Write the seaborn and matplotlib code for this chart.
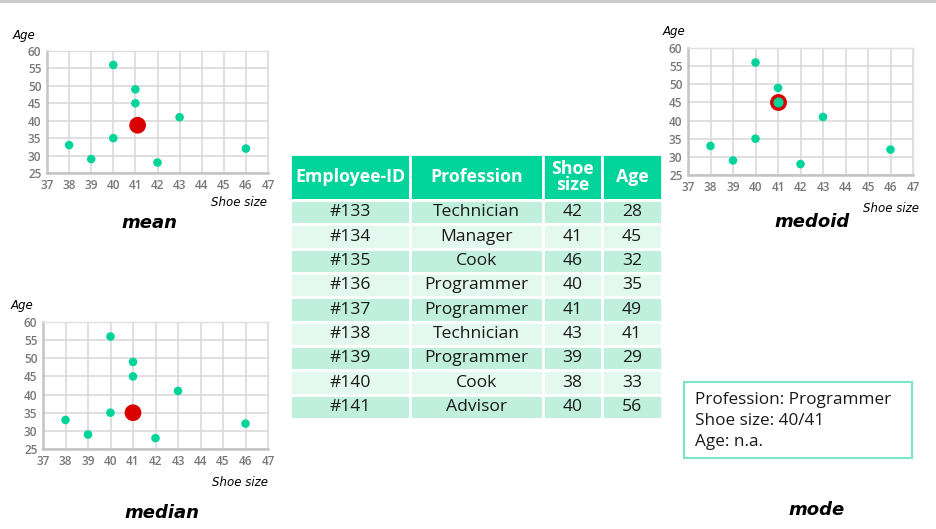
import matplotlib
matplotlib.use("Agg")
import matplotlib.pyplot as plt
import seaborn as sns
import pandas as pd

# Employee table data
employee_ids = ["#133", "#134", "#135", "#136", "#137", "#138", "#139", "#140", "#141"]
professions = ["Technician", "Manager", "Cook", "Programmer", "Programmer",
               "Technician", "Programmer", "Cook", "Advisor"]
shoe_sizes = [42, 41, 46, 40, 41, 43, 39, 38, 40]
ages = [28, 45, 32, 35, 49, 41, 29, 33, 56]
headers = ["Employee-ID", "Profession", "Shoe\nsize", "Age"]

# Central points
mean_point = (41.1, 38.7)
medoid_point = (41, 45)
median_point = (41, 35)

mode_lines = ["Profession: Programmer", "Shoe size: 40/41", "Age: n.a."]

x_ticks = list(range(37, 48))
y_ticks = list(range(25, 61, 5))

TEAL = "#00d49b"
RED = "#d80000"
W, H = 936, 529

sns.set_theme(style="white")
plt.rcParams['font.family'] = ['Open Sans', 'DejaVu Sans']

df = pd.DataFrame({"Shoe size": shoe_sizes, "Age": ages})

fig = plt.figure(figsize=(W / 100, H / 100), dpi=100)


def px_rect(left, top, right, bottom):
    return [left / W, 1 - bottom / H, (right - left) / W, (bottom - top) / H]


def px_text(x, y, s, **kw):
    fig.text(x / W, 1 - y / H, s, ha="center", va="center", **kw)


hand = dict(family="DejaVu Sans", style="italic", color="black")


def scatter_panel(rect, center, ring=False):
    ax = fig.add_axes(rect)
    sns.scatterplot(data=df, x="Shoe size", y="Age", color=TEAL, s=38,
                    edgecolor="none", ax=ax, zorder=3)
    if ring:
        ax.scatter([center[0]], [center[1]], s=95, facecolor=TEAL,
                   edgecolor=RED, linewidth=2.4, zorder=4)
    else:
        ax.scatter([center[0]], [center[1]], s=145, color=RED,
                   edgecolor="none", zorder=4)
    ax.set_xlim(37, 47)
    ax.set_ylim(25, 60)
    ax.set_xticks(x_ticks)
    ax.set_yticks(y_ticks)
    ax.grid(True, color="#dadada", linewidth=1.2)
    ax.set_axisbelow(True)
    ax.tick_params(length=0, labelsize=8.5, labelcolor="#777777", pad=4)
    for lab in ax.get_xticklabels() + ax.get_yticklabels():
        lab.set_fontweight("semibold")
    ax.set_xlabel("")
    ax.set_ylabel("")
    for side in ["top", "right"]:
        ax.spines[side].set_color("#e0e0e0")
        ax.spines[side].set_linewidth(1)
    for side in ["left", "bottom"]:
        ax.spines[side].set_color("#c4c4c4")
        ax.spines[side].set_linewidth(1.8)
    return ax


# Three scatter panels
scatter_panel(px_rect(47, 51, 268, 173), mean_point)
scatter_panel(px_rect(688, 48, 913, 175), medoid_point, ring=True)
scatter_panel(px_rect(43, 322, 268, 449), median_point)

# Axis captions and panel names
px_text(24, 36, "Age", fontsize=8.5, **hand)
px_text(239, 202, "Shoe size", fontsize=8.5, **hand)
px_text(149, 223, "mean", fontsize=13, fontweight="bold", **hand)

px_text(674, 31, "Age", fontsize=8.5, **hand)
px_text(891, 208, "Shoe size", fontsize=8.5, **hand)
px_text(812, 222, "medoid", fontsize=13, fontweight="bold", **hand)

px_text(22, 305, "Age", fontsize=8.5, **hand)
px_text(240, 483, "Shoe size", fontsize=8.5, **hand)
px_text(162, 513, "median", fontsize=13, fontweight="bold", **hand)

px_text(817, 510, "mode", fontsize=13, fontweight="bold", **hand)

# Table in the middle
tax = fig.add_axes(px_rect(290, 154, 662, 419))
tax.axis("off")
rows = [[e, p, str(s), str(a)] for e, p, s, a in zip(employee_ids, professions, shoe_sizes, ages)]
col_w = [120, 133, 59, 60]
col_w = [c / sum(col_w) for c in col_w]
table = tax.table(cellText=rows, colLabels=headers, colWidths=col_w,
                  cellLoc="center", bbox=[0, 0, 1, 1])
table.auto_set_font_size(False)
for (r, c), cell in table.get_celld().items():
    cell.set_edgecolor("white")
    cell.set_linewidth(2)
    if r == 0:
        cell.set_height(46 / 265)
        cell.set_facecolor(TEAL)
        cell.get_text().set_color("white")
        cell.get_text().set_fontweight("bold")
        cell.get_text().set_fontsize(12.8)
        cell.get_text().set_linespacing(0.9)
    else:
        cell.set_height(24.3 / 265)
        cell.set_facecolor("#c0efde" if r % 2 == 1 else "#e3f8ef")
        cell.get_text().set_color("#1a1a1a")
        cell.get_text().set_fontsize(12.6)

# Mode box
bax = fig.add_axes(px_rect(684, 382, 912, 458))
bax.set_xticks([])
bax.set_yticks([])
bax.set_facecolor("white")
for sp in bax.spines.values():
    sp.set_color("#7de6c7")
    sp.set_linewidth(1.5)
for i, line in enumerate(mode_lines):
    fig.text(695 / W, 1 - (400 + i * 21) / H, line, ha="left", va="center",
             fontsize=12.3, color="#1a1a1a")

# Thin grey rule at the top
fig.add_artist(plt.Line2D([0, 1], [1 - 1 / H, 1 - 1 / H], color="#c8c8c8", linewidth=2))

fig.savefig("out.png", dpi=100)
